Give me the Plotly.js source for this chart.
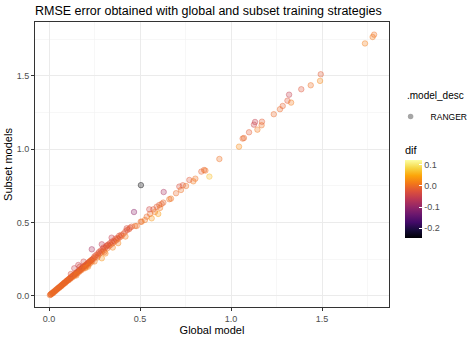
<!DOCTYPE html>
<html>
<head>
<meta charset="utf-8">
<script src="https://cdn.plot.ly/plotly-3.0.1.min.js"></script>
<style>html,body{margin:0;padding:0;background:#fff;}#chart{width:474px;height:338px;}</style>
</head>
<body>
<div id="chart"></div>
<script>
// RMSE of global model (x) vs subset models (y), coloured by dif
var global_model = [
0.005,0.008,0.010,0.012,0.015,0.018,0.020,0.022,0.025,0.028,
0.030,0.033,0.036,0.040,0.042,0.045,0.048,0.050,0.053,0.056,
0.058,0.060,0.063,0.066,0.068,0.070,0.073,0.076,0.078,0.080,
0.083,0.086,0.088,0.090,0.093,0.096,0.098,0.100,0.103,0.106,
0.108,0.110,0.113,0.116,0.118,0.120,0.123,0.126,0.128,0.130,
0.133,0.136,0.138,0.140,0.143,0.146,0.148,0.150,0.153,0.156,
0.158,0.160,0.163,0.166,0.168,0.170,0.173,0.176,0.178,0.180,
0.183,0.186,0.188,0.190,0.193,0.196,0.198,0.200,0.203,0.206,
0.208,0.210,0.213,0.216,0.218,0.220,0.223,0.226,0.228,0.230,
0.233,0.236,0.238,0.240,
0.139,0.161,0.190,0.120,0.170,0.150,0.200,0.235,0.290,0.344,0.290,0.215,0.250,
0.245,0.250,0.255,0.260,0.265,0.270,0.275,0.280,0.285,0.290,
0.295,0.300,0.300,0.305,0.310,0.315,0.320,0.325,0.330,0.335,
0.340,0.345,0.350,0.355,0.360,0.365,0.370,0.375,0.380,0.385,
0.390,0.395,0.400,0.410,0.420,0.427,0.430,0.440,0.445,0.454,
0.310,0.350,0.380,0.420,0.270,0.320,
0.467,0.473,0.482,0.505,0.504,0.509,0.527,0.537,0.551,0.555,
0.564,0.573,0.582,0.592,0.600,0.606,0.610,0.619,0.628,0.630,
0.661,0.670,0.698,0.716,0.725,0.735,0.753,0.771,0.793,0.804,
0.837,0.852,0.859,0.881,0.936,1.044,1.064,1.071,1.099,1.126,
1.132,1.145,1.168,1.170,1.235,1.269,1.284,1.310,1.319,1.330,
1.386,1.438,1.489,1.493,1.736,1.778,1.786
];
var subset_models = [
0.006,0.010,0.012,0.011,0.018,0.020,0.022,0.019,0.028,0.030,
0.033,0.031,0.040,0.041,0.046,0.044,0.052,0.053,0.055,0.060,
0.057,0.064,0.066,0.070,0.067,0.075,0.077,0.080,0.078,0.086,
0.087,0.090,0.094,0.089,0.098,0.100,0.105,0.104,0.108,0.112,
0.107,0.116,0.120,0.121,0.117,0.126,0.130,0.132,0.127,0.138,
0.140,0.142,0.136,0.148,0.150,0.152,0.147,0.158,0.160,0.163,
0.156,0.168,0.170,0.172,0.166,0.178,0.180,0.184,0.176,0.190,
0.190,0.194,0.186,0.200,0.202,0.205,0.196,0.210,0.212,0.215,
0.205,0.220,0.222,0.226,0.214,0.232,0.234,0.236,0.225,0.242,
0.244,0.247,0.236,0.252,
0.189,0.211,0.234,0.150,0.200,0.140,0.190,0.318,0.352,0.397,0.257,0.200,0.235,
0.258,0.270,0.265,0.280,0.262,0.290,0.300,0.290,0.310,0.300,
0.320,0.310,0.330,0.300,0.330,0.340,0.325,0.350,0.340,0.360,
0.350,0.370,0.360,0.375,0.370,0.390,0.380,0.395,0.390,0.410,
0.400,0.415,0.410,0.425,0.440,0.461,0.450,0.455,0.465,0.472,
0.290,0.330,0.360,0.405,0.275,0.345,
0.572,0.477,0.477,0.755,0.506,0.506,0.518,0.540,0.590,0.559,
0.529,0.590,0.572,0.608,0.559,0.620,0.600,0.627,0.636,0.708,
0.659,0.663,0.700,0.745,0.722,0.754,0.749,0.790,0.781,0.799,
0.847,0.858,0.854,0.813,0.933,1.017,1.072,1.076,1.115,1.167,
1.185,1.133,1.163,1.187,1.238,1.272,1.294,1.330,1.371,1.317,
1.408,1.435,1.465,1.510,1.720,1.764,1.780
];
var dif = [
-0.001,-0.002,-0.002,0.001,-0.003,-0.002,-0.002,0.003,-0.003,-0.002,
-0.003,0.002,-0.004,-0.001,-0.004,0.001,-0.004,-0.003,-0.002,-0.004,
0.001,-0.004,-0.003,-0.004,0.001,-0.005,-0.004,-0.004,0.000,-0.006,
-0.004,-0.004,-0.006,0.001,-0.005,-0.004,-0.007,-0.004,-0.005,-0.006,
0.001,-0.006,-0.007,-0.005,0.001,-0.006,-0.007,-0.006,0.001,-0.008,
-0.007,-0.006,0.002,-0.008,-0.007,-0.006,0.001,-0.008,-0.007,-0.007,
0.002,-0.008,-0.007,-0.006,0.002,-0.008,-0.007,-0.008,0.002,-0.010,
-0.007,-0.008,0.002,-0.010,-0.009,-0.009,0.002,-0.010,-0.009,-0.009,
0.003,-0.010,-0.009,-0.010,0.004,-0.012,-0.011,-0.010,0.003,-0.012,
-0.011,-0.011,0.002,-0.012,
-0.050,-0.050,-0.044,-0.030,-0.030,0.010,0.010,-0.083,-0.062,-0.053,0.033,0.015,0.015,
-0.013,-0.020,-0.010,-0.020,0.003,-0.020,-0.025,-0.010,-0.025,-0.010,
-0.025,-0.010,-0.030,0.005,-0.020,-0.025,-0.005,-0.025,-0.010,-0.025,
-0.010,-0.025,-0.010,-0.020,-0.010,-0.025,-0.010,-0.020,-0.010,-0.025,
-0.010,-0.020,-0.010,-0.015,-0.020,-0.034,-0.020,-0.015,-0.020,-0.018,
0.020,0.020,0.020,0.015,-0.005,-0.025,
-0.105,-0.004,0.005,-0.250,-0.002,0.003,0.009,-0.003,-0.039,-0.004,
0.035,-0.017,0.010,-0.016,0.041,-0.014,0.010,-0.008,-0.008,-0.078,
0.002,0.007,-0.002,-0.029,0.003,-0.019,0.004,-0.019,0.012,0.005,
-0.010,-0.006,0.005,0.068,0.003,0.027,-0.008,-0.005,-0.016,-0.041,
-0.053,0.012,0.005,-0.017,-0.003,-0.003,-0.010,-0.020,-0.052,0.013,
-0.022,0.003,0.024,-0.017,0.016,0.014,0.006
];
var model_desc = 'RANGER';
var legend_title = '.model_desc';
var x_ticks = [0, 0.5, 1, 1.5];
var x_labels = ['0.0', '0.5', '1.0', '1.5'];
var y_ticks = [0, 0.5, 1, 1.5];
var y_labels = ['0.0', '0.5', '1.0', '1.5'];
var minor_ticks = [0.25, 0.75, 1.25, 1.75];
var dif_ticks = [-0.2, -0.1, 0, 0.1];
var dif_labels = ['-0.2', '-0.1', '0.0', '0.1'];

var inferno = [
  [0.0, '#000004'], [0.1, '#160b39'], [0.2, '#420a68'], [0.3, '#6a176e'],
  [0.4, '#932667'], [0.5, '#bc3754'], [0.6, '#dd513a'], [0.7, '#f37819'],
  [0.8, '#fca50a'], [0.9, '#f6d746'], [1.0, '#fcffa4']
];
var cmin = -0.246, cmax = 0.123;

// translucent fill of each point (carries the colour bar)
var pointsFill = {
  type: 'scatter', mode: 'markers',
  x: global_model, y: subset_models,
  showlegend: false, hoverinfo: 'skip',
  marker: {
    size: 5.5, opacity: 0.28, symbol: 'circle',
    color: dif, colorscale: inferno, cmin: cmin, cmax: cmax,
    line: {width: 0},
    colorbar: {
      x: 1.045, xanchor: 'left', xpad: 0, ypad: 0,
      y: 0.409, yanchor: 'middle',
      thickness: 17, lenmode: 'pixels', len: 95,
      outlinewidth: 0,
      tickvals: dif_ticks, ticktext: dif_labels,
      ticks: 'inside', ticklen: 3, tickcolor: '#ffffff', tickwidth: 1,
      tickfont: {size: 9, color: '#4d4d4d'},
      title: {text: 'dif', side: 'top', font: {size: 11, color: '#000'}}
    }
  }
};
// slightly stronger rim of each point
var pointsRim = {
  type: 'scatter', mode: 'markers',
  x: global_model, y: subset_models,
  showlegend: false, hoverinfo: 'skip',
  marker: {
    size: 5.5, opacity: 0.4, symbol: 'circle-open',
    color: dif, colorscale: inferno, cmin: cmin, cmax: cmax,
    showscale: false,
    line: {width: 1}
  }
};
var legendItem = {
  type: 'scatter', mode: 'markers',
  x: [null], y: [null], name: model_desc,
  showlegend: true, hoverinfo: 'skip',
  marker: {size: 5.5, color: '#000000', opacity: 0.35}
};

var axisCommon = {
  showgrid: true, gridcolor: '#ebebeb', gridwidth: 1,
  zeroline: false, showline: true, mirror: true,
  linecolor: '#333333', linewidth: 1,
  ticks: 'outside', ticklen: 3, tickcolor: '#333333', tickwidth: 1,
  tickfont: {size: 9, color: '#4d4d4d'},
  minor: {showgrid: true, gridcolor: '#f2f2f2', gridwidth: 0.6, tickvals: minor_ticks, ticks: ''}
};

var layout = {
  width: 474, height: 338,
  margin: {l: 35, r: 85, t: 22, b: 31, autoexpand: false},
  paper_bgcolor: '#ffffff', plot_bgcolor: '#ffffff',
  font: {family: 'Liberation Sans, Arial, sans-serif', color: '#000'},
  title: {
    text: 'RMSE error obtained with global and subset training strategies',
    font: {size: 12.5, color: '#000'},
    xref: 'paper', x: 0, xanchor: 'left',
    yref: 'container', y: 0.97, yanchor: 'middle'
  },
  xaxis: Object.assign({}, axisCommon, {
    range: [-0.077, 1.868], tickvals: x_ticks, ticktext: x_labels,
    title: {text: 'Global model', font: {size: 11, color: '#000'}, standoff: 1}
  }),
  yaxis: Object.assign({}, axisCommon, {
    range: [-0.075, 1.866], tickvals: y_ticks, ticktext: y_labels,
    title: {text: 'Subset models', font: {size: 11, color: '#000'}, standoff: 1}
  }),
  showlegend: true,
  legend: {
    x: 1.0045, xanchor: 'left', y: 0.719, yanchor: 'top',
    bgcolor: 'rgba(0,0,0,0)',
    font: {size: 8.5, color: '#000'}
  },
  annotations: [{
    text: legend_title, showarrow: false,
    xref: 'paper', yref: 'paper', x: 1.045, y: 0.741,
    xanchor: 'left', yanchor: 'middle',
    font: {size: 10, color: '#000'}
  }]
};

Plotly.newPlot('chart', [pointsFill, pointsRim, legendItem], layout, {displayModeBar: false, staticPlot: true});
</script>
</body>
</html>
